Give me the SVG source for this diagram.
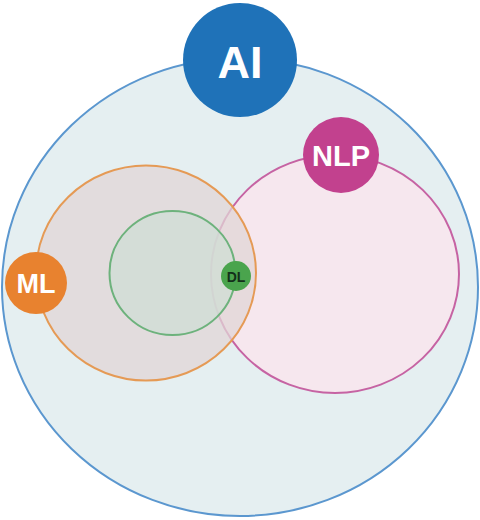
<svg xmlns="http://www.w3.org/2000/svg" width="480" height="520" viewBox="0 0 480 520">
  <style>
    .lbl { font-family: "Liberation Sans", Arial, sans-serif; font-weight: bold; text-anchor: middle; dominant-baseline: central; fill: #ffffff; }
  </style>
  <rect width="480" height="520" fill="#ffffff"/>
  <g id="ai-area">
    <ellipse cx="240" cy="287" rx="238" ry="229" fill="#e5eff1" stroke="#5b97cf" stroke-width="2"/>
  </g>
  <g id="nlp-area">
    <ellipse cx="335" cy="274" rx="124" ry="119" fill="#f6e7ee" stroke="#c663a3" stroke-width="2"/>
  </g>
  <g id="ml-area">
    <ellipse cx="146" cy="273" rx="110" ry="107.5" fill="#e0d6d6" fill-opacity="0.75" stroke="#e59a55" stroke-width="2"/>
  </g>
  <g id="dl-area">
    <ellipse cx="172.5" cy="273" rx="63" ry="62" fill="#cfddd4" fill-opacity="0.75" stroke="#6db27c" stroke-width="2"/>
  </g>
  <g id="ai">
    <circle cx="240" cy="60" r="57" fill="#1f72b8"/>
    <text class="lbl" x="240" y="62" font-size="45">AI</text>
  </g>
  <g id="nlp">
    <circle cx="341" cy="155" r="38" fill="#c2418e"/>
    <text class="lbl" x="341" y="156" font-size="29">NLP</text>
  </g>
  <g id="ml">
    <circle cx="36" cy="283" r="31" fill="#e8822f"/>
    <text class="lbl" x="36" y="284" font-size="27">ML</text>
  </g>
  <g id="dl">
    <circle cx="236" cy="276" r="15" fill="#4aa44d"/>
    <text class="lbl" x="236" y="277" font-size="14" style="fill:#13301a">DL</text>
  </g>
  <g id="connectors"></g>
</svg>
